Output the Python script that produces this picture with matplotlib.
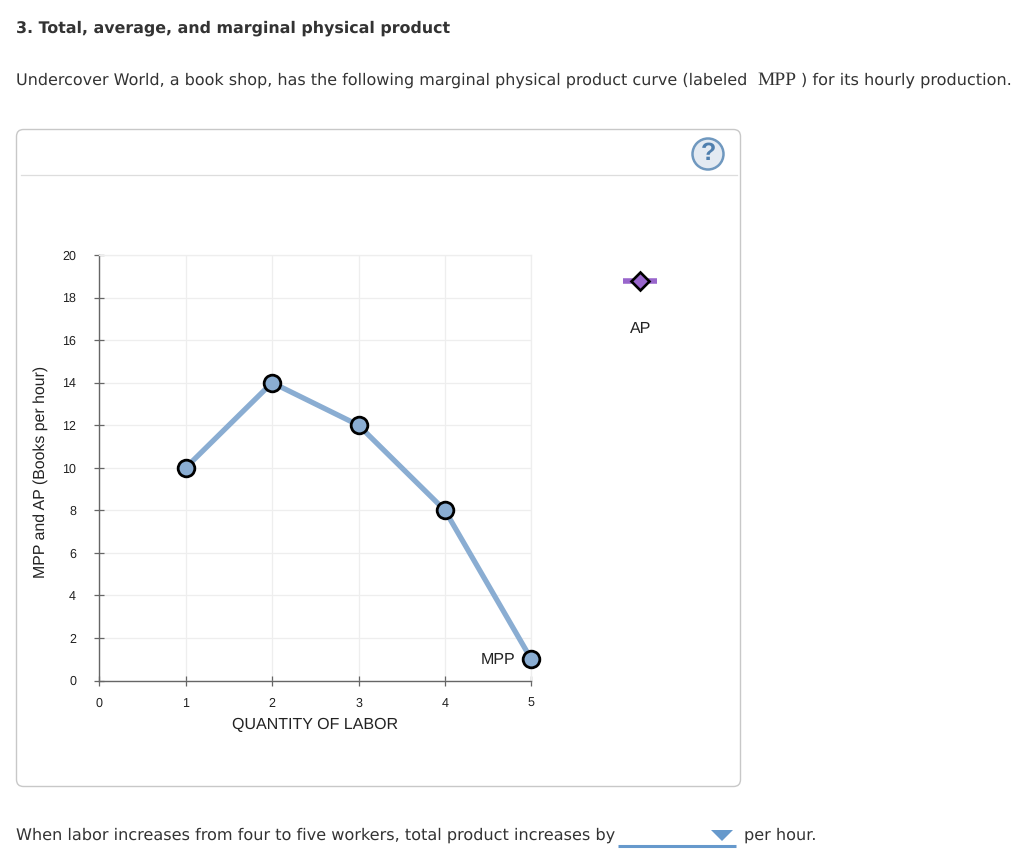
import matplotlib
matplotlib.use("Agg")
import matplotlib.pyplot as plt
from matplotlib.patches import FancyBboxPatch, Circle, Polygon

plt.rcParams["text.hinting"] = "no_hinting"

# --- datos ---
labor = [1, 2, 3, 4, 5]
mpp = [10, 14, 12, 8, 1]
x_ticks = [0, 1, 2, 3, 4, 5]
y_ticks = [0, 2, 4, 6, 8, 10, 12, 14, 16, 18, 20]

TITULO = "3. Total, average, and marginal physical product"
INTRO_A = "Undercover World, a book shop, has the following marginal physical product curve (labeled"
INTRO_B = ") for its hourly production."
PREGUNTA = "When labor increases from four to five workers, total product increases by"

AZUL, MORADO, GRIS, GRID, BORDE = "#8AADD2", "#9966CC", "#666666", "#EEEEEE", "#C8C8C8"
TXT = "#333333"
W, H = 1024, 865
ARIAL = "Liberation Sans"

fig = plt.figure(figsize=(W / 100, H / 100), dpi=100, facecolor="white")

# capa en pixeles para todo lo que rodea al grafico
bg = fig.add_axes([0, 0, 1, 1], zorder=0)
bg.set_xlim(0, W); bg.set_ylim(H, 0); bg.axis("off")

bg.text(16, 28, TITULO, fontsize=11.4, fontweight="bold", color=TXT, va="center", family="DejaVu Sans")
bg.text(16, 80.5, INTRO_A, fontsize=11.53, color=TXT, va="center", family="DejaVu Sans")
bg.text(757, 80, "MPP", fontsize=14, color=TXT, va="center", family="Liberation Serif")
bg.text(801, 80.5, INTRO_B, fontsize=11.6, color=TXT, va="center", family="DejaVu Sans")
bg.text(16, 835.5, PREGUNTA, fontsize=11.62, color=TXT, va="center", family="DejaVu Sans")
bg.text(744, 835.5, "per hour.", fontsize=11.6, color=TXT, va="center", family="DejaVu Sans")

# recuadro
bg.add_patch(FancyBboxPatch((16.5, 129.5), 724, 657, boxstyle="round,pad=0,rounding_size=7",
                            fc="white", ec=BORDE, lw=1.0))
bg.plot([21, 737], [174.5, 174.5], color="#DDDDDD", lw=0.9)

# boton de ayuda
bg.add_patch(Circle((708, 154), 15.5, fc="#E3EAF2", ec="#6F98BF", lw=1.8))
bg.text(708, 154, "?", fontsize=18, color="#4F7FAE", ha="center", va="center",
        family="Liberation Sans", fontweight="bold")

# leyenda AP
bg.plot([623, 657], [281, 281], color=MORADO, lw=4, solid_capstyle="butt")
bg.plot([640], [281], marker="D", ms=9, mfc=MORADO, mec="black", mew=1.9)
bg.text(640.5, 329, "AP", fontsize=11.5, color="#222222", ha="center", va="center", family=ARIAL)

# desplegable
bg.add_patch(Polygon([[711, 830], [733, 830], [722, 841]], closed=True, fc="#6699CC", ec="none"))
bg.plot([618, 736], [846, 846], color="#6699CC", lw=2.2, solid_capstyle="butt")

# grafico principal
X0, X1, Y0, Y1 = 99.3, 531.3, 680.5, 255.0
ax = fig.add_axes([X0 / W, 1 - Y0 / H, (X1 - X0) / W, (Y0 - Y1) / H], zorder=1)
ax.patch.set_alpha(0)
ax.set_xlim(0, 5); ax.set_ylim(0, 20)
ax.set_xticks(x_ticks); ax.set_yticks(y_ticks)
ax.grid(color=GRID, lw=0.9, zorder=0)
ax.set_axisbelow(True)

ax.spines[["top", "right"]].set_color(GRID)
ax.spines[["left", "bottom"]].set_color(GRIS)
ax.spines[["left", "bottom"]].set_linewidth(1.0)
ax.spines[["top", "right"]].set_linewidth(0.9)
ax.tick_params(direction="inout", length=7.5, width=0.9, color=GRIS, labelsize=9, labelcolor="#222222", pad=13)
ax.tick_params(axis="x", pad=8.7)
for t in ax.get_xticklabels() + ax.get_yticklabels():
    t.set_family(ARIAL)

ax.plot(labor, mpp, color=AZUL, lw=3.8, marker="o", ms=12, mfc=AZUL, mec="black", mew=2,
        clip_on=False, zorder=5, solid_capstyle="butt")

bg.text(315, 725, "QUANTITY OF LABOR", fontsize=11.5, color="#222222", ha="center", va="center", family=ARIAL)
bg.text(41, 472, "MPP and AP (Books per hour)", fontsize=11.4, color="#222222", rotation=90,
        ha="center", va="center", family=ARIAL)
ax.annotate("MPP", (5, 0.97), xytext=(-11.5, 0), textcoords="offset points", fontsize=11.5, color="#222222",
            ha="right", va="center", family=ARIAL)

fig.savefig("out.png", dpi=100)
